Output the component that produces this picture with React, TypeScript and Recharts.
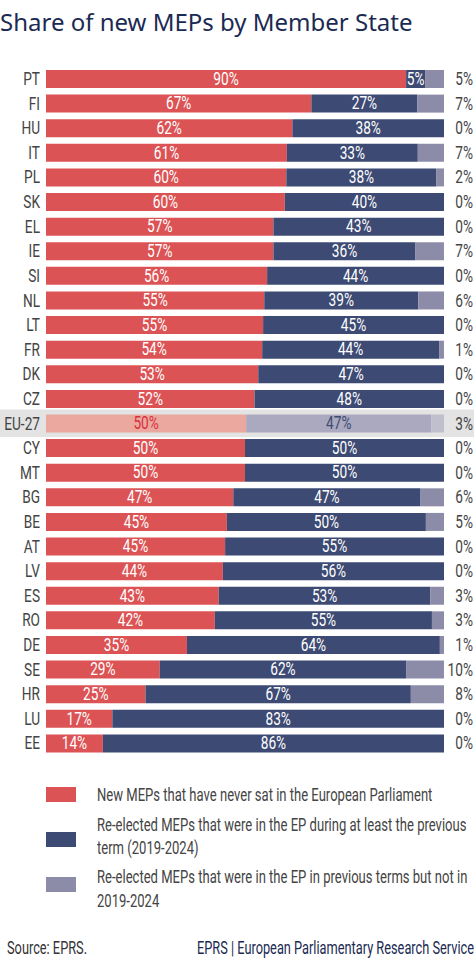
import { Bar, BarChart, CartesianGrid, Cell, LabelList, ReferenceArea, XAxis, YAxis } from "recharts";

const countries = ["PT", "FI", "HU", "IT", "PL", "SK", "EL", "IE", "SI", "NL", "LT", "FR", "DK", "CZ", "EU-27", "CY", "MT", "BG", "BE", "AT", "LV", "ES", "RO", "DE", "SE", "HR", "LU", "EE"];
const newMeps = [90.48, 66.67, 61.9, 60.53, 60.38, 60, 57.14, 57.14, 55.56, 54.84, 54.55, 54.32, 53.33, 52.38, 50.3, 50, 50, 47.06, 45.45, 45, 44.44, 43.4, 42.42, 35.42, 28.57, 25, 16.67, 14.29];
const reelected = [4.76, 26.67, 38.1, 32.89, 37.74, 40, 42.86, 35.71, 44.44, 38.71, 45.45, 44.44, 46.67, 47.62, 46.5, 50, 50, 47.06, 50, 55, 55.56, 53.2, 54.55, 63.54, 61.9, 66.67, 83.33, 85.71];
const previous = [4.76, 6.67, 0, 6.58, 1.89, 0, 0, 7.14, 0, 6.45, 0, 1.23, 0, 0, 3.2, 0, 0, 5.88, 4.55, 0, 0, 3.4, 3.03, 1.04, 9.52, 8.33, 0, 0];
const gridTicks = [0, 20, 40, 60, 80, 100];

const RED = "#dc5355";
const NAVY = "#3d4a73";
const GREY = "#8d8ca8";
const FONT = "Roboto, sans-serif";
const NARROW = 0.76;
const NARROW_LEGEND = 0.725;
const NARROW_FOOTER = 0.71;
const EU = "EU-27";

const data = countries.map((country, i) => ({
  country,
  newMeps: newMeps[i],
  reelected: reelected[i],
  previous: previous[i],
}));

// no condensed font installed, so Roboto gets squeezed horizontally
const NarrowText = ({ x, y, anchor, fill, children }: any) => (
  <text
    transform={`translate(${x} ${y}) scale(${NARROW} 1)`}
    textAnchor={anchor}
    dominantBaseline="middle"
    fontFamily={FONT}
    fontSize={18}
    fill={fill}
  >
    {children}
  </text>
);

const inBarLabel = (euColor: string) => (props: any) => {
  const { x, y, width, height, value, index } = props;
  return (
    <NarrowText x={x + width / 2} y={y + height / 2 + 1} anchor="middle" fill={countries[index] === EU ? euColor : "#fff"}>
      {Math.round(value)}%
    </NarrowText>
  );
};

const LeftTick = ({ x, y, payload }: any) => (
  <NarrowText x={x} y={y + 1} anchor="end" fill="#444">
    {payload.value}
  </NarrowText>
);

const RightTick = ({ y, index }: any) => (
  <NarrowText x={473} y={y + 1} anchor="end" fill="#444">
    {Math.round(previous[index])}%
  </NarrowText>
);

const euBand = (props: any) => (
  <rect x={0} y={props.y - 2} width={474} height={props.height + 3} fill="#e3e3e3" />
);

const legendRows = [
  { color: RED, swatchTop: 787, lines: [{ text: "New MEPs that have never sat in the European Parliament", top: 783 }] },
  {
    color: NAVY,
    swatchTop: 832,
    lines: [
      { text: "Re-elected MEPs that were in the EP during at least the previous", top: 813 },
      { text: "term (2019-2024)", top: 836 },
    ],
  },
  {
    color: GREY,
    swatchTop: 877,
    lines: [
      { text: "Re-elected MEPs that were in the EP in previous terms but not in", top: 865 },
      { text: "2019-2024", top: 889 },
    ],
  },
];

const narrowLine = (left: number, top: number, color: string, squeeze: number): any => ({
  position: "absolute",
  left,
  top,
  fontFamily: FONT,
  fontSize: 18,
  lineHeight: "24px",
  color,
  whiteSpace: "nowrap",
  transform: `scaleX(${squeeze})`,
  transformOrigin: "left top",
});

export default function App() {
  return (
    <div style={{ position: "absolute", left: 0, top: 0, width: 474, height: 961, background: "#fff", overflow: "hidden" }}>
      <div style={{ position: "absolute", left: 0, top: 5, fontFamily: "'Noto Sans', sans-serif", fontSize: 24, color: "#1b2a52", whiteSpace: "nowrap" }}>
        Share of new MEPs by Member State
      </div>
      <BarChart
        width={474}
        height={770}
        data={data}
        layout="vertical"
        margin={{ top: 67, right: 0, bottom: 14, left: 0 }}
        barSize={18}
      >
        <ReferenceArea yAxisId="left" y1={EU} y2={EU} shape={euBand} ifOverflow="visible" />
        <CartesianGrid horizontal={false} verticalValues={gridTicks} stroke="#dcdce4" strokeWidth={1} />
        <XAxis
          type="number"
          domain={[0, 100]}
          ticks={gridTicks}
          height={0}
          tick={false}
          tickLine={false}
          axisLine={{ stroke: "#dcdce4" }}
          allowDataOverflow
        />
        <YAxis
          yAxisId="left"
          type="category"
          dataKey="country"
          width={46}
          interval={0}
          axisLine={false}
          tickLine={false}
          tickMargin={0}
          tick={LeftTick}
        />
        <YAxis
          yAxisId="right"
          orientation="right"
          type="category"
          dataKey="country"
          width={30}
          interval={0}
          axisLine={false}
          tickLine={false}
          tick={RightTick}
        />
        <Bar yAxisId="left" dataKey="newMeps" stackId="a" fill={RED} isAnimationActive={false}>
          {countries.map((c) => (
            <Cell key={c} fill={c === EU ? "#eaa89e" : RED} />
          ))}
          <LabelList dataKey="newMeps" content={inBarLabel("#d9303c")} />
        </Bar>
        <Bar yAxisId="left" dataKey="reelected" stackId="a" fill={NAVY} isAnimationActive={false}>
          {countries.map((c) => (
            <Cell key={c} fill={c === EU ? "#aaa9bf" : NAVY} />
          ))}
          <LabelList dataKey="reelected" content={inBarLabel(NAVY)} />
        </Bar>
        <Bar yAxisId="left" dataKey="previous" stackId="a" fill={GREY} isAnimationActive={false}>
          {countries.map((c) => (
            <Cell key={c} fill={c === EU ? "#bfbfcd" : GREY} />
          ))}
        </Bar>
      </BarChart>
      {legendRows.map((row) => (
        <div key={row.color}>
          <div style={{ position: "absolute", left: 46, top: row.swatchTop, width: 30, height: 15, background: row.color }} />
          {row.lines.map((line) => (
            <div key={line.text} style={narrowLine(97, line.top, "#444", NARROW_LEGEND)}>
              {line.text}
            </div>
          ))}
        </div>
      ))}
      <div style={narrowLine(7, 936, "#333", NARROW_FOOTER)}>Source: EPRS.</div>
      <div style={narrowLine(197, 936, "#1b2a52", NARROW_FOOTER)}>EPRS | European Parliamentary Research Service</div>
    </div>
  );
}
